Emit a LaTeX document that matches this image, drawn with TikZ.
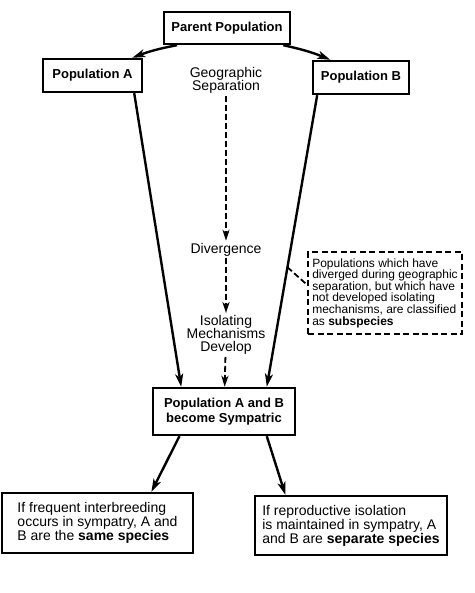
\documentclass[tikz,border=0pt]{standalone}
\usepackage{fontspec}
\setmainfont{Liberation Sans}
\usetikzlibrary{arrows.meta}
\tikzset{
  popbox/.style={draw, line width=2.4pt, inner sep=2pt, align=center, font=\fontsize{13}{15}\selectfont\bfseries},
  outcomebox/.style={draw, line width=2.2pt, inner sep=2pt, align=left, font=\fontsize{14}{14}\selectfont},
  notebox/.style={draw, dash pattern=on 6pt off 3.5pt, line width=1.8pt, inner sep=2pt, align=left, font=\fontsize{12}{11.6}\selectfont},
  stagetext/.style={align=center, inner sep=2pt, font=\fontsize{14}{13.2}\selectfont},
  mainarrow/.style={line width=2.4pt, -{Stealth[length=13pt,width=8pt,inset=3.5pt]}},
  stagearrow/.style={line width=1.8pt, dash pattern=on 6pt off 3pt, -{Stealth[length=11pt,width=7pt,inset=3pt]}},
}
\begin{document}
\begin{tikzpicture}[x=1pt,y=-1pt]
\useasboundingbox (0,0) rectangle (474,593);
%parent population
\node[popbox, minimum width=126pt, minimum height=32pt] (parent) at (227,28) {Parent Population};
%populations A and B
\node[popbox, minimum width=99pt, minimum height=33pt] (popA) at (92.5,75.5) {Population A};
\node[popbox, minimum width=96pt, minimum height=33pt] (popB) at (361,77.5) {Population B};
\draw[mainarrow] (parent.-161) to[bend right=5] (popA.24);
\draw[mainarrow] (parent.-17) to[bend left=5] (popB.150);
%stages
\node[stagetext] (geo) at (226,80.5) {Geographic\\Separation};
\node[stagetext] (div) at (226,249.5) {Divergence};
\node[stagetext] (iso) at (226,335) {Isolating\\Mechanisms\\Develop};
\node[popbox, minimum width=142pt, minimum height=47pt] (symp) at (224,411.5) {Population A and B\\become Sympatric};
\draw[stagearrow] (geo) -- (div);
\draw[stagearrow] (div) -- (iso);
\draw[stagearrow] (iso) -- (symp);
\draw[mainarrow] (popA.-23) -- (symp.150);
\draw[mainarrow] (popB.202) -- (symp.30);
%note
\node[notebox, minimum width=154pt, minimum height=82pt] (sub) at (385,293) {Populations which have\\diverged during geographic\\separation, but which have\\not developed isolating\\mechanisms, are classified\\as \textbf{subspecies}};
\path (popB.202) -- (symp.30) coordinate[pos=0.59] (onB);
\draw[dash pattern=on 6pt off 3pt, line width=1.8pt] (onB) -- (sub.174);
%outcomes
\node[outcomebox, minimum width=191pt, minimum height=60pt] (same) at (97.5,523) {If frequent interbreeding\\occurs in sympatry, A and\\B are the \textbf{same species}};
\node[outcomebox, minimum width=192pt, minimum height=59pt] (sep) at (351,525.5) {If reproductive isolation\\is maintained in sympatry, A\\and B are \textbf{separate species}};
\draw[mainarrow] (symp.209) -- (same.30);
\draw[mainarrow] (symp.-30) -- (sep.155);
\end{tikzpicture}
\end{document}
